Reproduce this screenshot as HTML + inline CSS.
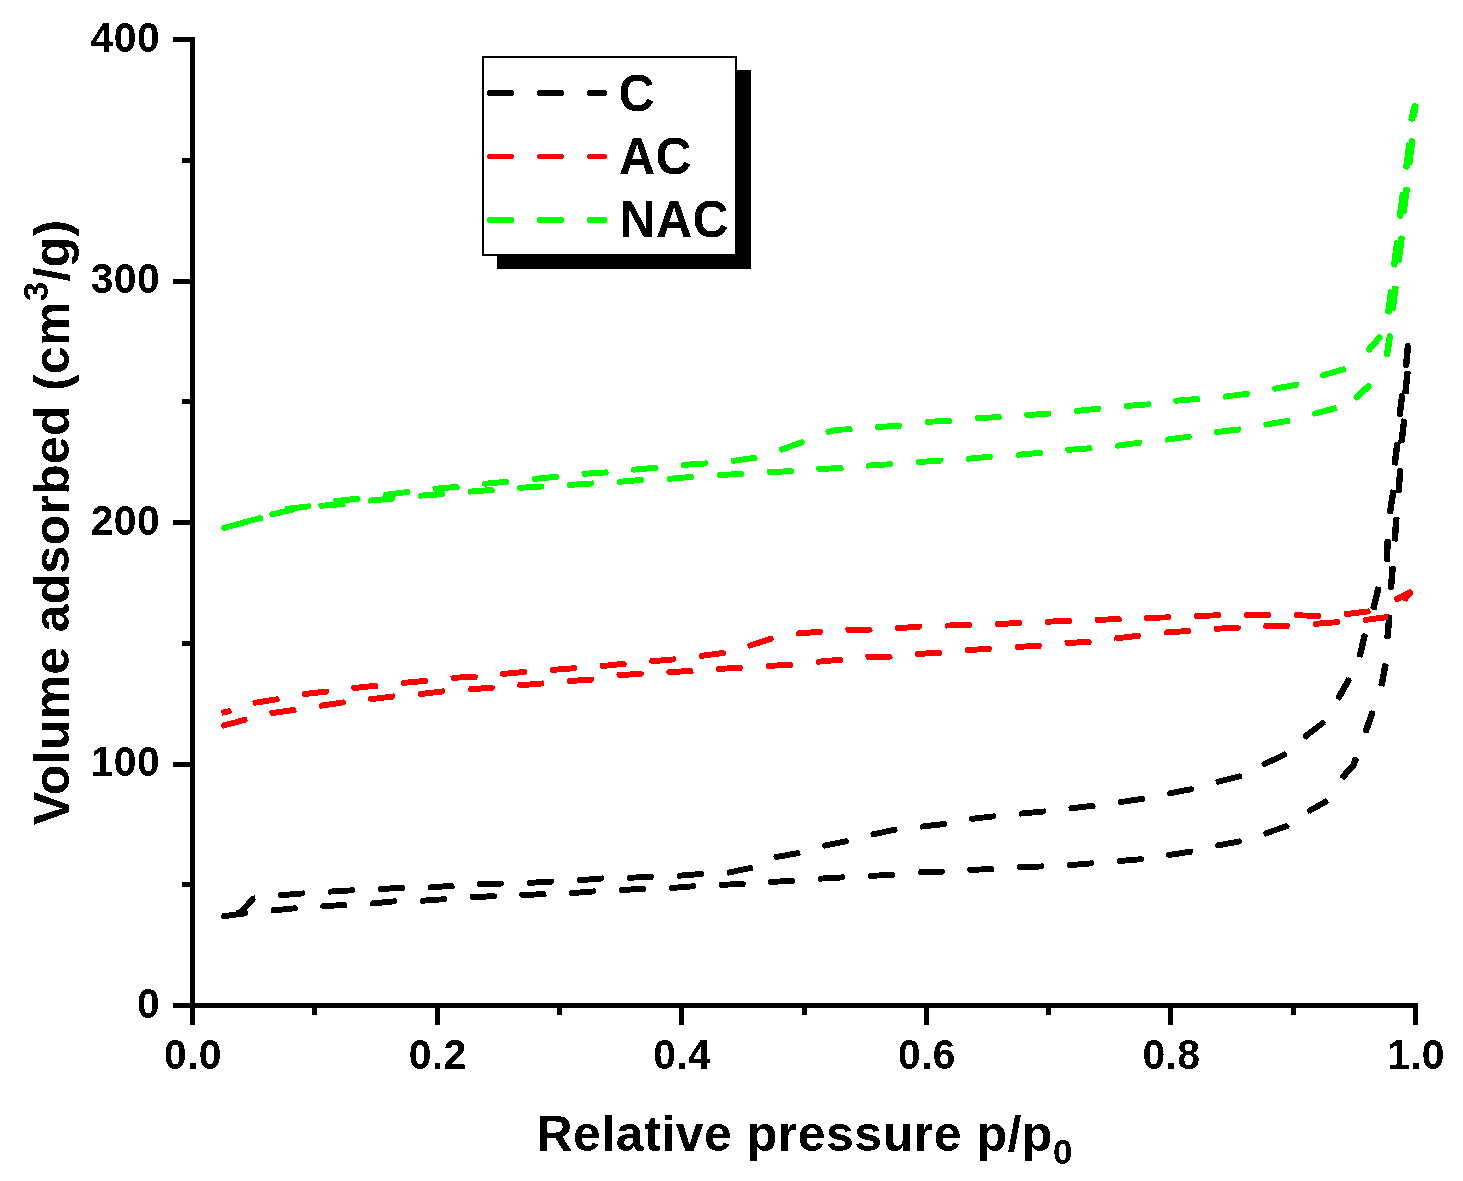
<!DOCTYPE html>
<html lang="en">
<head>
<meta charset="utf-8">
<title>Nitrogen adsorption isotherms</title>
<style>
html,body{margin:0;padding:0;background:#fff;}
svg{display:block;}
text{font-family:"Liberation Sans",Arial,Helvetica,sans-serif;font-weight:bold;fill:#000;}
.tick text{font-size:42.5px;letter-spacing:0.35px;}
.title{font-size:50.8px;}
.leg{font-size:52.1px;}
.small{font-size:35.6px;}
.curves path{fill:none;stroke-linecap:butt;stroke-linejoin:round;}
</style>
</head>
<body>
<svg width="1463" height="1181" viewBox="0 0 1463 1181">
<defs>
<filter id="alias" x="0" y="0" width="1463" height="1181" filterUnits="userSpaceOnUse" color-interpolation-filters="sRGB">
<feComponentTransfer><feFuncA type="discrete" tableValues="0 1"/></feComponentTransfer>
</filter>
</defs>
<rect x="0" y="0" width="1463" height="1181" fill="#fff"/>
<g class="axes" fill="#000" shape-rendering="crispEdges">
<rect x="190" y="37" width="5" height="988"/>
<rect x="173" y="1003" width="1245" height="5"/>
<rect x="173" y="1003.0" width="18" height="5"/>
<rect x="173" y="761.5" width="18" height="5"/>
<rect x="173" y="520.0" width="18" height="5"/>
<rect x="173" y="278.5" width="18" height="5"/>
<rect x="173" y="37.0" width="18" height="5"/>
<rect x="182" y="882.2" width="9" height="5"/>
<rect x="182" y="640.8" width="9" height="5"/>
<rect x="182" y="399.2" width="9" height="5"/>
<rect x="182" y="157.8" width="9" height="5"/>
<rect x="190.0" y="1003" width="5" height="22"/>
<rect x="312.3" y="1003" width="5" height="12"/>
<rect x="434.6" y="1003" width="5" height="22"/>
<rect x="556.9" y="1003" width="5" height="12"/>
<rect x="679.2" y="1003" width="5" height="22"/>
<rect x="801.5" y="1003" width="5" height="12"/>
<rect x="923.8" y="1003" width="5" height="22"/>
<rect x="1046.1" y="1003" width="5" height="12"/>
<rect x="1168.4" y="1003" width="5" height="22"/>
<rect x="1290.7" y="1003" width="5" height="12"/>
<rect x="1413.0" y="1003" width="5" height="22"/>
</g>
<g class="alltext" filter="url(#alias)">
<g class="tick">
<text transform="translate(160,1017.7) scale(0.962,1)" text-anchor="end">0</text>
<text transform="translate(160,776.2) scale(0.962,1)" text-anchor="end">100</text>
<text transform="translate(160,534.7) scale(0.962,1)" text-anchor="end">200</text>
<text transform="translate(160,293.2) scale(0.962,1)" text-anchor="end">300</text>
<text transform="translate(160,51.7) scale(0.962,1)" text-anchor="end">400</text>
<text transform="translate(193.0,1068.7) scale(0.962,1)" text-anchor="middle">0.0</text>
<text transform="translate(437.6,1068.7) scale(0.962,1)" text-anchor="middle">0.2</text>
<text transform="translate(682.2,1068.7) scale(0.962,1)" text-anchor="middle">0.4</text>
<text transform="translate(926.8,1068.7) scale(0.962,1)" text-anchor="middle">0.6</text>
<text transform="translate(1171.4,1068.7) scale(0.962,1)" text-anchor="middle">0.8</text>
<text transform="translate(1416.0,1068.7) scale(0.962,1)" text-anchor="middle">1.0</text>
</g>
<text class="title" transform="translate(536.5,1150.7) scale(0.984,1)" style="letter-spacing:0.53px">Relative pressure p/p<tspan class="small" dy="13">0</tspan></text>
<text class="title" transform="translate(68.8,825.2) rotate(-90) scale(0.984,1)" style="letter-spacing:0.3px">Volume adsorbed (cm<tspan class="small" dy="-21">3</tspan><tspan dy="21">/g)</tspan></text>
</g>
<g class="curves" shape-rendering="crispEdges">
<path d="M221.3,916.5 L246.8,913.2 L270.1,910.7 L296.8,908.1 L320.4,906.6 L347.0,904.6 L370.2,903.6 L397.3,901.1 L420.0,900.9 L446.1,899.1 L469.0,897.4 L496.5,896.0 L519.4,895.3 L546.6,893.9 L569.2,893.3 L596.3,891.2 L619.4,890.2 L645.7,888.6 L669.0,888.2 L695.7,886.1 L719.3,885.1 L745.9,883.5 L769.1,882.0 L795.9,880.7 L819.1,878.7 L845.7,877.2 L869.1,876.0 L894.9,874.6 L918.3,872.5 L945.0,871.5 L968.1,870.1 L995.2,868.8 L1018.4,867.4 L1045.0,866.3 L1068.3,865.2 L1095.0,863.1 L1118.3,861.1 L1144.0,859.0 L1167.1,855.3 L1193.8,851.2 L1216.3,845.7 L1242.0,841.0 L1263.5,834.2 L1288.1,825.6 L1306.8,812.3 L1327.6,800.6" stroke="#000" stroke-width="5.9" stroke-dasharray="25 24.863" stroke-dashoffset="48.97"/>
<path d="M221.3,916.5 L246.8,913.2 L270.1,910.7 L296.8,908.1 L320.4,906.6 L347.0,904.6 L370.2,903.6 L397.3,901.1 L420.0,900.9 L446.1,899.1 L469.0,897.4 L496.5,896.0 L519.4,895.3 L546.6,893.9 L569.2,893.3 L596.3,891.2 L619.4,890.2 L645.7,888.6 L669.0,888.2 L695.7,886.1 L719.3,885.1 L745.9,883.5 L769.1,882.0 L795.9,880.7 L819.1,878.7 L845.7,877.2 L869.1,876.0 L894.9,874.6 L918.3,872.5 L945.0,871.5 L968.1,870.1 L995.2,868.8 L1018.4,867.4 L1045.0,866.3 L1068.3,865.2 L1095.0,863.1 L1118.3,861.1 L1144.0,859.0 L1167.1,855.3 L1193.8,851.2 L1216.3,845.7 L1242.0,841.0 L1263.5,834.2 L1288.1,825.6 L1306.8,812.3 L1327.6,800.6" stroke="#000" stroke-width="3.9" stroke-dasharray="27 22.863" stroke-dashoffset="0.10"/>
<path d="M1326.5,720.3 L1307.4,734.7 L1287.1,753.4 L1263.5,764.5 L1242.0,775.8 L1216.3,782.1 L1193.8,788.7 L1167.1,793.8 L1145.0,798.5 L1118.3,802.4 L1095.0,805.5 L1069.1,808.6 L1046.0,811.3 L1019.0,813.7 L995.8,816.1 L969.1,819.2 L947.0,823.7 L919.9,826.8 L897.8,829.1 L871.8,834.6 L849.2,840.7 L823.0,845.9 L801.0,852.6 L775.0,857.2 L753.7,867.3 L727.5,872.8 L703.9,873.8 L676.8,875.9 L653.9,876.5 L627.2,877.9 L604.5,878.3 L577.4,880.4 L554.2,881.4 L527.2,883.0 L504.0,883.5 L478.2,884.1 L453.8,885.7 L428.2,887.6 L403.6,887.6 L378.4,889.2 L354.8,890.2 L328.2,891.7 L304.6,893.3 L278.3,895.4 L254.3,897.4 L240.0,912.8 L222.5,916.3" stroke="#000" stroke-width="5.9" stroke-dasharray="25 24.918" stroke-dashoffset="46.86"/>
<path d="M1326.5,720.3 L1307.4,734.7 L1287.1,753.4 L1263.5,764.5 L1242.0,775.8 L1216.3,782.1 L1193.8,788.7 L1167.1,793.8 L1145.0,798.5 L1118.3,802.4 L1095.0,805.5 L1069.1,808.6 L1046.0,811.3 L1019.0,813.7 L995.8,816.1 L969.1,819.2 L947.0,823.7 L919.9,826.8 L897.8,829.1 L871.8,834.6 L849.2,840.7 L823.0,845.9 L801.0,852.6 L775.0,857.2 L753.7,867.3 L727.5,872.8 L703.9,873.8 L676.8,875.9 L653.9,876.5 L627.2,877.9 L604.5,878.3 L577.4,880.4 L554.2,881.4 L527.2,883.0 L504.0,883.5 L478.2,884.1 L453.8,885.7 L428.2,887.6 L403.6,887.6 L378.4,889.2 L354.8,890.2 L328.2,891.7 L304.6,893.3 L278.3,895.4 L254.3,897.4 L240.0,912.8 L222.5,916.3" stroke="#000" stroke-width="3.9" stroke-dasharray="27 22.918" stroke-dashoffset="47.86"/>
<path d="M1342.3,777.7 L1353.5,765.0 L1356.0,758.2" stroke="#000" stroke-width="6.4"/>
<path d="M1341.6,778.5 L1353.5,765.0 L1356.4,757.3" stroke="#000" stroke-width="4.4"/>
<path d="M1365.6,731.9 L1372.7,711.7" stroke="#000" stroke-width="6.4"/>
<path d="M1365.3,732.8 L1373.0,710.8" stroke="#000" stroke-width="4.4"/>
<path d="M1381.6,685.2 L1385.5,664.4" stroke="#000" stroke-width="6.4"/>
<path d="M1381.4,686.2 L1385.7,663.4" stroke="#000" stroke-width="4.4"/>
<path d="M1387.5,637.9 L1389.3,615.5" stroke="#000" stroke-width="6.4"/>
<path d="M1387.4,638.9 L1389.4,614.5" stroke="#000" stroke-width="4.4"/>
<path d="M1390.9,589.1 L1392.7,566.7" stroke="#000" stroke-width="6.4"/>
<path d="M1390.8,590.1 L1392.8,565.7" stroke="#000" stroke-width="4.4"/>
<path d="M1394.7,540.5 L1396.4,518.1" stroke="#000" stroke-width="6.4"/>
<path d="M1394.6,541.5 L1396.5,517.1" stroke="#000" stroke-width="4.4"/>
<path d="M1398.6,491.8 L1400.3,469.4" stroke="#000" stroke-width="6.4"/>
<path d="M1398.5,492.8 L1400.4,468.4" stroke="#000" stroke-width="4.4"/>
<path d="M1401.5,442.1 L1404.2,419.7" stroke="#000" stroke-width="6.4"/>
<path d="M1401.4,443.1 L1404.3,418.7" stroke="#000" stroke-width="4.4"/>
<path d="M1405.4,393.3 L1407.5,371.9" stroke="#000" stroke-width="6.4"/>
<path d="M1405.3,394.3 L1407.6,370.9" stroke="#000" stroke-width="4.4"/>
<path d="M1408.1,344.3 L1406.0,367.0" stroke="#000" stroke-width="6.4"/>
<path d="M1408.2,343.3 L1405.9,368.0" stroke="#000" stroke-width="4.4"/>
<path d="M1402.3,394.4 L1399.6,415.7" stroke="#000" stroke-width="6.4"/>
<path d="M1402.4,393.4 L1399.5,416.7" stroke="#000" stroke-width="4.4"/>
<path d="M1397.4,443.1 L1394.7,464.5" stroke="#000" stroke-width="6.4"/>
<path d="M1397.5,442.1 L1394.6,465.5" stroke="#000" stroke-width="4.4"/>
<path d="M1393.4,490.8 L1389.9,513.2" stroke="#000" stroke-width="6.4"/>
<path d="M1393.6,489.8 L1389.7,514.2" stroke="#000" stroke-width="4.4"/>
<path d="M1387.8,539.6 L1386.7,561.4" stroke="#000" stroke-width="6.4"/>
<path d="M1387.8,538.6 L1386.7,562.4" stroke="#000" stroke-width="4.4"/>
<path d="M1378.4,587.8 L1373.4,608.8" stroke="#000" stroke-width="6.4"/>
<path d="M1378.6,586.8 L1373.2,609.8" stroke="#000" stroke-width="4.4"/>
<path d="M1364.8,634.5 L1359.8,656.2" stroke="#000" stroke-width="6.4"/>
<path d="M1365.0,633.5 L1359.6,657.2" stroke="#000" stroke-width="4.4"/>
<path d="M1349.3,678.9 L1338.1,698.6" stroke="#000" stroke-width="6.4"/>
<path d="M1349.8,678.0 L1337.6,699.5" stroke="#000" stroke-width="4.4"/>
<path d="M221.3,726.1 L245.7,719.6 L269.3,713.4 L295.8,709.7 L318.9,706.0 L345.2,702.1 L368.1,699.5 L393.8,696.4 L418.0,694.3 L444.0,691.3 L467.2,689.6 L493.8,687.5 L516.9,685.6 L544.0,683.3 L567.1,681.2 L593.8,679.4 L616.8,675.5 L643.0,673.5 L666.2,672.6 L693.2,670.6 L715.8,669.1 L743.1,667.5 L765.5,666.0 L792.4,664.7 L816.0,661.9 L842.0,659.6 L866.0,657.3 L891.8,656.5 L915.2,654.1 L941.5,652.6 L965.5,650.4 L991.7,648.5 L1015.3,647.1 L1041.9,645.5 L1065.0,643.3 L1091.3,641.5 L1114.2,638.6 L1140.9,635.5 L1164.5,632.6 L1190.1,630.8 L1213.3,628.9 L1239.9,627.5 L1263.1,626.5 L1290.2,625.5 L1313.3,624.0 L1339.7,622.0 L1363.0,620.2 L1388.1,617.0" stroke="#ff0000" stroke-width="5.9" stroke-dasharray="25 24.911" stroke-dashoffset="48.93"/>
<path d="M221.3,726.1 L245.7,719.6 L269.3,713.4 L295.8,709.7 L318.9,706.0 L345.2,702.1 L368.1,699.5 L393.8,696.4 L418.0,694.3 L444.0,691.3 L467.2,689.6 L493.8,687.5 L516.9,685.6 L544.0,683.3 L567.1,681.2 L593.8,679.4 L616.8,675.5 L643.0,673.5 L666.2,672.6 L693.2,670.6 L715.8,669.1 L743.1,667.5 L765.5,666.0 L792.4,664.7 L816.0,661.9 L842.0,659.6 L866.0,657.3 L891.8,656.5 L915.2,654.1 L941.5,652.6 L965.5,650.4 L991.7,648.5 L1015.3,647.1 L1041.9,645.5 L1065.0,643.3 L1091.3,641.5 L1114.2,638.6 L1140.9,635.5 L1164.5,632.6 L1190.1,630.8 L1213.3,628.9 L1239.9,627.5 L1263.1,626.5 L1290.2,625.5 L1313.3,624.0 L1339.7,622.0 L1363.0,620.2 L1388.1,617.0" stroke="#ff0000" stroke-width="3.9" stroke-dasharray="27 22.911" stroke-dashoffset="0.02"/>
<path d="M1370.9,611.1 L1344.3,614.3 L1320.9,616.0 L1294.9,615.2 L1271.1,615.0 L1245.0,614.8 L1221.0,615.2 L1195.2,616.0 L1171.8,617.3 L1145.2,617.9 L1122.0,618.7 L1095.4,620.1 L1071.8,620.7 L1045.1,621.8 L1021.8,622.7 L995.2,624.3 L971.8,624.7 L946.0,625.6 L922.0,626.4 L896.4,628.4 L872.2,629.5 L846.1,630.1 L822.9,631.5 L796.3,633.6 L775.0,637.4 L750.3,645.4 L726.7,652.5 L700.0,656.0 L676.8,659.1 L650.6,661.4 L627.0,663.4 L600.4,666.3 L577.8,667.9 L551.1,670.0 L528.2,671.6 L501.1,674.1 L477.8,676.5 L451.6,677.9 L428.0,680.6 L401.6,683.1 L378.8,685.5 L352.1,688.2 L328.8,691.3 L302.1,694.3 L280.0,698.8 L253.9,702.9 L231.8,710.7 L221.5,712.8" stroke="#ff0000" stroke-width="5.9" stroke-dasharray="25 24.861" stroke-dashoffset="48.47"/>
<path d="M1370.9,611.1 L1344.3,614.3 L1320.9,616.0 L1294.9,615.2 L1271.1,615.0 L1245.0,614.8 L1221.0,615.2 L1195.2,616.0 L1171.8,617.3 L1145.2,617.9 L1122.0,618.7 L1095.4,620.1 L1071.8,620.7 L1045.1,621.8 L1021.8,622.7 L995.2,624.3 L971.8,624.7 L946.0,625.6 L922.0,626.4 L896.4,628.4 L872.2,629.5 L846.1,630.1 L822.9,631.5 L796.3,633.6 L775.0,637.4 L750.3,645.4 L726.7,652.5 L700.0,656.0 L676.8,659.1 L650.6,661.4 L627.0,663.4 L600.4,666.3 L577.8,667.9 L551.1,670.0 L528.2,671.6 L501.1,674.1 L477.8,676.5 L451.6,677.9 L428.0,680.6 L401.6,683.1 L378.8,685.5 L352.1,688.2 L328.8,691.3 L302.1,694.3 L280.0,698.8 L253.9,702.9 L231.8,710.7 L221.5,712.8" stroke="#ff0000" stroke-width="3.9" stroke-dasharray="27 22.861" stroke-dashoffset="49.47"/>
<path d="M1404.1,599.7 L1410.0,592.6 L1395.4,599.9" stroke="#ff0000" stroke-width="6.4"/>
<path d="M1403.5,600.5 L1410.0,592.6 L1394.5,600.3" stroke="#ff0000" stroke-width="4.4"/>
<path d="M221.5,528.6 L247.0,521.7 L270.0,514.8 L294.0,509.3 L318.5,506.0 L344.5,504.0 L368.5,500.7 L394.4,498.4 L418.4,495.8 L443.6,494.1 L468.6,491.7 L493.8,489.8 L516.9,488.0 L544.0,486.4 L567.1,485.1 L594.2,483.3 L617.0,481.9 L644.0,479.8 L667.0,479.0 L694.0,476.7 L716.2,474.9 L743.9,474.1 L766.6,472.5 L793.8,470.8 L817.0,469.2 L843.0,467.8 L866.0,465.7 L893.1,464.1 L916.2,462.2 L942.9,460.4 L966.1,458.9 L992.7,456.5 L1016.3,454.8 L1041.9,452.8 L1065.0,450.1 L1091.9,448.1 L1115.3,446.0 L1140.9,442.5 L1164.5,439.9 L1191.1,436.4 L1214.3,432.3 L1239.9,429.4 L1263.1,425.1 L1289.1,420.6 L1312.3,414.3 L1336.8,407.8" stroke="#00ff00" stroke-width="5.9" stroke-dasharray="25 24.949" stroke-dashoffset="49.07"/>
<path d="M221.5,528.6 L247.0,521.7 L270.0,514.8 L294.0,509.3 L318.5,506.0 L344.5,504.0 L368.5,500.7 L394.4,498.4 L418.4,495.8 L443.6,494.1 L468.6,491.7 L493.8,489.8 L516.9,488.0 L544.0,486.4 L567.1,485.1 L594.2,483.3 L617.0,481.9 L644.0,479.8 L667.0,479.0 L694.0,476.7 L716.2,474.9 L743.9,474.1 L766.6,472.5 L793.8,470.8 L817.0,469.2 L843.0,467.8 L866.0,465.7 L893.1,464.1 L916.2,462.2 L942.9,460.4 L966.1,458.9 L992.7,456.5 L1016.3,454.8 L1041.9,452.8 L1065.0,450.1 L1091.9,448.1 L1115.3,446.0 L1140.9,442.5 L1164.5,439.9 L1191.1,436.4 L1214.3,432.3 L1239.9,429.4 L1263.1,425.1 L1289.1,420.6 L1312.3,414.3 L1336.8,407.8" stroke="#00ff00" stroke-width="3.9" stroke-dasharray="27 22.949" stroke-dashoffset="0.13"/>
<path d="M1345.7,368.7 L1320.3,376.0 L1299.0,384.3 L1272.1,389.2 L1249.8,393.5 L1223.1,396.8 L1199.9,398.8 L1173.3,400.9 L1150.1,404.2 L1123.0,406.2 L1100.1,408.5 L1073.8,411.2 L1051.2,413.4 L1024.1,415.3 L1000.9,417.1 L974.3,418.1 L951.1,420.6 L925.1,422.0 L901.9,425.5 L875.2,427.2 L852.3,429.2 L835.9,429.8 L826.0,432.7 L805.7,440.9 L781.1,449.7 L758.2,457.3 L731.2,461.1 L709.0,463.2 L682.0,465.0 L659.0,467.5 L631.7,469.8 L609.2,472.2 L582.1,473.9 L560.0,476.5 L532.9,479.0 L510.1,481.5 L483.3,483.9 L459.8,486.7 L433.7,488.8 L409.6,491.7 L384.5,495.0 L360.5,498.4 L335.3,501.1 L311.7,506.0 L288.2,508.7 L262.5,517.5 L236.0,524.5 L223.0,528.2" stroke="#00ff00" stroke-width="5.9" stroke-dasharray="25 24.902" stroke-dashoffset="49.51"/>
<path d="M1345.7,368.7 L1320.3,376.0 L1299.0,384.3 L1272.1,389.2 L1249.8,393.5 L1223.1,396.8 L1199.9,398.8 L1173.3,400.9 L1150.1,404.2 L1123.0,406.2 L1100.1,408.5 L1073.8,411.2 L1051.2,413.4 L1024.1,415.3 L1000.9,417.1 L974.3,418.1 L951.1,420.6 L925.1,422.0 L901.9,425.5 L875.2,427.2 L852.3,429.2 L835.9,429.8 L826.0,432.7 L805.7,440.9 L781.1,449.7 L758.2,457.3 L731.2,461.1 L709.0,463.2 L682.0,465.0 L659.0,467.5 L631.7,469.8 L609.2,472.2 L582.1,473.9 L560.0,476.5 L532.9,479.0 L510.1,481.5 L483.3,483.9 L459.8,486.7 L433.7,488.8 L409.6,491.7 L384.5,495.0 L360.5,498.4 L335.3,501.1 L311.7,506.0 L288.2,508.7 L262.5,517.5 L236.0,524.5 L223.0,528.2" stroke="#00ff00" stroke-width="3.9" stroke-dasharray="27 22.902" stroke-dashoffset="0.61"/>
<path d="M1355.6,398.5 L1369.8,384.9" stroke="#00ff00" stroke-width="6.4"/>
<path d="M1354.9,399.2 L1370.5,384.2" stroke="#00ff00" stroke-width="4.4"/>
<path d="M1386.9,356.1 L1390.1,334.4" stroke="#00ff00" stroke-width="6.4"/>
<path d="M1386.8,357.1 L1390.2,333.4" stroke="#00ff00" stroke-width="4.4"/>
<path d="M1367.8,350.9 L1380.7,336.2" stroke="#00ff00" stroke-width="6.4"/>
<path d="M1367.1,351.7 L1381.4,335.4" stroke="#00ff00" stroke-width="4.4"/>
<path d="M1395.5,286.9 L1392.5,309.7" stroke="#00ff00" stroke-width="6.4"/>
<path d="M1395.6,285.9 L1392.4,310.7" stroke="#00ff00" stroke-width="4.4"/>
<path d="M1391.2,290.6 L1388.2,313.4" stroke="#00ff00" stroke-width="6.4"/>
<path d="M1391.3,289.6 L1388.1,314.4" stroke="#00ff00" stroke-width="4.4"/>
<path d="M1401.8,236.6 L1398.5,261.4" stroke="#00ff00" stroke-width="6.4"/>
<path d="M1401.9,235.6 L1398.4,262.4" stroke="#00ff00" stroke-width="4.4"/>
<path d="M1397.3,241.5 L1394.0,266.3" stroke="#00ff00" stroke-width="6.4"/>
<path d="M1397.4,240.5 L1393.9,267.3" stroke="#00ff00" stroke-width="4.4"/>
<path d="M1406.8,187.8 L1403.5,212.6" stroke="#00ff00" stroke-width="6.4"/>
<path d="M1406.9,186.8 L1403.4,213.6" stroke="#00ff00" stroke-width="4.4"/>
<path d="M1403.1,192.8 L1399.8,217.6" stroke="#00ff00" stroke-width="6.4"/>
<path d="M1403.2,191.8 L1399.7,218.6" stroke="#00ff00" stroke-width="4.4"/>
<path d="M1412.4,139.5 L1409.1,164.3" stroke="#00ff00" stroke-width="6.4"/>
<path d="M1412.5,138.5 L1409.0,165.3" stroke="#00ff00" stroke-width="4.4"/>
<path d="M1409.5,143.7 L1406.2,168.5" stroke="#00ff00" stroke-width="6.4"/>
<path d="M1409.6,142.7 L1406.1,169.5" stroke="#00ff00" stroke-width="4.4"/>
<path d="M1413.7,116.5 L1415.5,104.4" stroke="#00ff00" stroke-width="6.4"/>
<path d="M1413.6,117.5 L1415.6,103.4" stroke="#00ff00" stroke-width="4.4"/>
<path d="M1414.1,107.0 L1411.4,120.5" stroke="#00ff00" stroke-width="6.4"/>
<path d="M1414.3,106.0 L1411.2,121.5" stroke="#00ff00" stroke-width="4.4"/>
</g>
<g class="legend" shape-rendering="crispEdges">
<rect x="497" y="70" width="254" height="199" fill="#000"/>
<rect x="483" y="57" width="253" height="198" fill="#fff" stroke="#000" stroke-width="2"/>
<g>
<rect x="488" y="90" width="25" height="6" fill="#000"/>
<rect x="487" y="91" width="27" height="4" fill="#000"/>
<rect x="538" y="90" width="25" height="6" fill="#000"/>
<rect x="537" y="91" width="27" height="4" fill="#000"/>
<rect x="588" y="90" width="18" height="6" fill="#000"/>
<rect x="587" y="91" width="20" height="4" fill="#000"/>
<rect x="488" y="154" width="25" height="5" fill="#ff0000"/>
<rect x="487" y="155" width="27" height="3" fill="#ff0000"/>
<rect x="538" y="154" width="25" height="5" fill="#ff0000"/>
<rect x="537" y="155" width="27" height="3" fill="#ff0000"/>
<rect x="588" y="154" width="18" height="5" fill="#ff0000"/>
<rect x="587" y="155" width="20" height="3" fill="#ff0000"/>
<rect x="488" y="217" width="25" height="6" fill="#00ff00"/>
<rect x="487" y="218" width="27" height="4" fill="#00ff00"/>
<rect x="538" y="217" width="25" height="6" fill="#00ff00"/>
<rect x="537" y="218" width="27" height="4" fill="#00ff00"/>
<rect x="588" y="217" width="18" height="6" fill="#00ff00"/>
<rect x="587" y="218" width="20" height="4" fill="#00ff00"/>
</g></g>
<g class="legendtext" style="letter-spacing:0.5px" filter="url(#alias)">
<text class="leg" transform="translate(618.6,110.6) scale(0.9595,1)">C</text>
<text class="leg" transform="translate(619,173.9) scale(0.9595,1)">AC</text>
<text class="leg" transform="translate(619.4,236.9) scale(0.9595,1)">NAC</text>
</g>
</svg>
</body>
</html>
